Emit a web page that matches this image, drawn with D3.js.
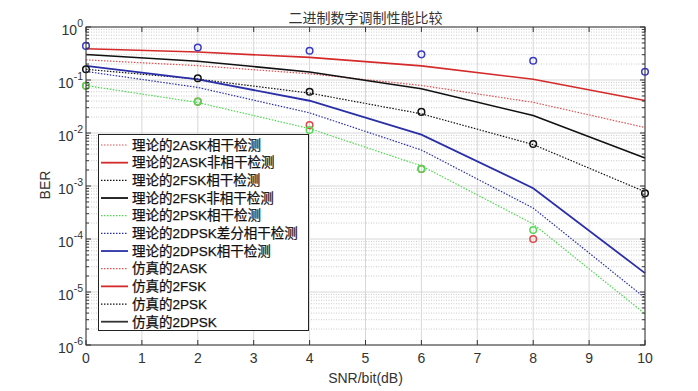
<!DOCTYPE html>
<html><head><meta charset="utf-8">
<script src="https://cdn.jsdelivr.net/npm/d3@7"></script>
<style>
html,body{margin:0;padding:0;background:#fff;}
svg{display:block;}
text{font-family:"Liberation Sans","Noto Sans CJK SC",sans-serif;}
</style></head>
<body>
<svg id="c" width="698" height="391"></svg>
<script>
// ---- data ----
const snr = [0, 2, 4, 6, 8, 10];
const xTicks = [0,1,2,3,4,5,6,7,8,9,10];
const yExponents = [0,-1,-2,-3,-4,-5,-6];

const askCoh     = [0.240, 0.1865, 0.131, 0.079, 0.0379, 0.0127];
const askNoncoh  = [0.389, 0.337, 0.267, 0.185, 0.103, 0.041];
const fskCoh     = [0.159, 0.104, 0.0566, 0.023, 0.00605, 0.00078];
const fskNoncoh  = [0.303, 0.226, 0.142, 0.0683, 0.0213, 0.00337];
const pskCoh     = [0.0786, 0.0376, 0.0121, 0.0024, 0.000192, 3.87e-6];
const dpskDiff   = [0.145, 0.0724, 0.024, 0.00478, 0.000383, 7.74e-6];
const dpskCoh    = [0.184, 0.1024, 0.0406, 0.00934, 0.000909, 2.27e-5];

const simBlue  = [0.44, 0.41, 0.357, 0.305, 0.231, 0.1435];
const simBlack = [0.16, 0.108, 0.06, 0.025, 0.0062, 0.00073];
const simRed   = [0.078, 0.039, 0.0141, 0.0021, 0.0001];
const simGreen = [0.078, 0.039, 0.0114, 0.0021, 0.000148];

const legendLabels = ["理论的2ASK相干检测","理论的2ASK非相干检测","理论的2FSK相干检测","理论的2FSK非相干检测",
  "理论的2PSK相干检测","理论的2DPSK差分相干检测","理论的2DPSK相干检测","仿真的2ASK","仿真的2FSK","仿真的2PSK","仿真的2DPSK"];

// ---- drawing ----
const RED="#d42a2a", RED_L="#e05050", BLUE="#2a2fa8", GREEN="#4fd84f", BLACK="#111";
const svg = d3.select("#c");
const L=86, R=645, T=27, B=345;
const x = d3.scaleLinear().domain([0,10]).range([L,R]);
const y = d3.scaleLog().domain([1e-6,1]).range([B,T]);

// grid
const g = svg.append("g");
const minor = [];
for (let e=-6;e<0;e++) for (let k=2;k<=9;k++) minor.push(k*Math.pow(10,e));
g.selectAll(".mn").data(minor).enter().append("line")
  .attr("x1",L).attr("x2",R).attr("y1",d=>y(d)).attr("y2",d=>y(d))
  .attr("stroke","#bdbdbd").attr("stroke-width",0.8).attr("stroke-dasharray","1,1.5");
g.selectAll(".mjy").data(yExponents).enter().append("line")
  .attr("x1",L).attr("x2",R).attr("y1",d=>y(Math.pow(10,d))).attr("y2",d=>y(Math.pow(10,d)))
  .attr("stroke","#d8d8d8").attr("stroke-width",1);
g.selectAll(".mjx").data(xTicks).enter().append("line")
  .attr("y1",T).attr("y2",B).attr("x1",d=>x(d)).attr("x2",d=>x(d))
  .attr("stroke","#d8d8d8").attr("stroke-width",1);

// theory lines
const line = d3.line().x((d,i)=>x(snr[i])).y(d=>y(d));
const theory = [
  {d:askCoh, c:RED_L, w:1.2, dash:"1.5,1.5"},
  {d:askNoncoh, c:RED, w:1.6, dash:null},
  {d:fskCoh, c:BLACK, w:1.2, dash:"1.5,1.5"},
  {d:fskNoncoh, c:BLACK, w:1.6, dash:null},
  {d:pskCoh, c:GREEN, w:1.2, dash:"1.5,1.5"},
  {d:dpskDiff, c:BLUE, w:1.2, dash:"1.5,1.5"},
  {d:dpskCoh, c:BLUE, w:1.8, dash:null}
];
theory.forEach(s=>{
  svg.append("path").datum(s.d).attr("d",line).attr("fill","none")
    .attr("stroke",s.c).attr("stroke-width",s.w).attr("stroke-dasharray",s.dash);
});

// simulated markers
function marks(arr,col){
  svg.append("g").selectAll("circle").data(arr).enter().append("circle")
    .attr("cx",(d,i)=>x(snr[i])).attr("cy",d=>y(d)).attr("r",3.3)
    .attr("fill","none").attr("stroke",col).attr("stroke-width",1.5);
}
marks(simBlue,"#3a3ac8");
marks(simBlack,"#111");
marks(simRed,"#e04848");
marks(simGreen,"#55d855");

// axes box + ticks
const ax = svg.append("g").attr("stroke","#333").attr("stroke-width",1);
ax.append("rect").attr("x",L).attr("y",T).attr("width",R-L).attr("height",B-T).attr("fill","none");
xTicks.forEach(t=>{
  ax.append("line").attr("x1",x(t)).attr("x2",x(t)).attr("y1",B).attr("y2",B-5);
  ax.append("line").attr("x1",x(t)).attr("x2",x(t)).attr("y1",T).attr("y2",T+5);
});
yExponents.forEach(e=>{
  const v=y(Math.pow(10,e));
  ax.append("line").attr("x1",L).attr("x2",L+5).attr("y1",v).attr("y2",v);
  ax.append("line").attr("x1",R).attr("x2",R-5).attr("y1",v).attr("y2",v);
});
minor.forEach(m=>{
  const v=y(m);
  ax.append("line").attr("x1",L).attr("x2",L+3).attr("y1",v).attr("y2",v);
  ax.append("line").attr("x1",R).attr("x2",R-3).attr("y1",v).attr("y2",v);
});

// tick labels
svg.append("g").selectAll("text").data(xTicks).enter().append("text")
  .attr("x",d=>x(d)).attr("y",363).attr("text-anchor","middle")
  .attr("font-size",14).attr("fill","#333").text(d=>d);
yExponents.forEach(e=>{
  const t=svg.append("text").attr("x",83).attr("y",y(Math.pow(10,e))+8)
    .attr("text-anchor","end").attr("font-size",14).attr("fill","#333");
  t.append("tspan").text("10");
  t.append("tspan").attr("dy",-8).attr("font-size",10.5).text(String(e));
});

// titles
svg.append("text").attr("x",365.5).attr("y",23).attr("text-anchor","middle")
  .attr("font-size",14).attr("fill","#333").text("二进制数字调制性能比较");
svg.append("text").attr("x",365.5).attr("y",383).attr("text-anchor","middle")
  .attr("font-size",14).attr("fill","#333").text("SNR/bit(dB)");
svg.append("text").attr("transform","translate(50,185) rotate(-90)").attr("text-anchor","middle")
  .attr("font-size",14).attr("fill","#333").text("BER");

// legend
const lg = svg.append("g");
lg.append("rect").attr("x",98.5).attr("y",134.5).attr("width",210).attr("height",196)
  .attr("fill","#fff").attr("stroke","#222").attr("stroke-width",1);
const lStyles = [
  {c:RED_L,w:1.2,dash:"1.5,1.5"},{c:RED,w:1.8,dash:null},{c:BLACK,w:1.2,dash:"1.5,1.5"},{c:BLACK,w:1.8,dash:null},
  {c:GREEN,w:1.2,dash:"1.5,1.5"},{c:BLUE,w:1.2,dash:"1.5,1.5"},{c:BLUE,w:1.8,dash:null},
  {c:RED_L,w:1.2,dash:"1.5,1.5"},{c:RED,w:1.8,dash:null},{c:BLACK,w:1.2,dash:"1.5,1.5"},{c:"#333",w:1.8,dash:null}
];
legendLabels.forEach((lab,i)=>{
  const yy = 145 + i*17.67;
  const s=lStyles[i];
  lg.append("line").attr("x1",101).attr("x2",128).attr("y1",yy).attr("y2",yy)
    .attr("stroke",s.c).attr("stroke-width",s.w).attr("stroke-dasharray",s.dash);
  lg.append("text").attr("x",132).attr("y",yy+4.8).attr("font-size",13.5).attr("fill","#111")
    .attr("stroke","#111").attr("stroke-width",0.25).text(lab);
});
</script>
</body></html>
